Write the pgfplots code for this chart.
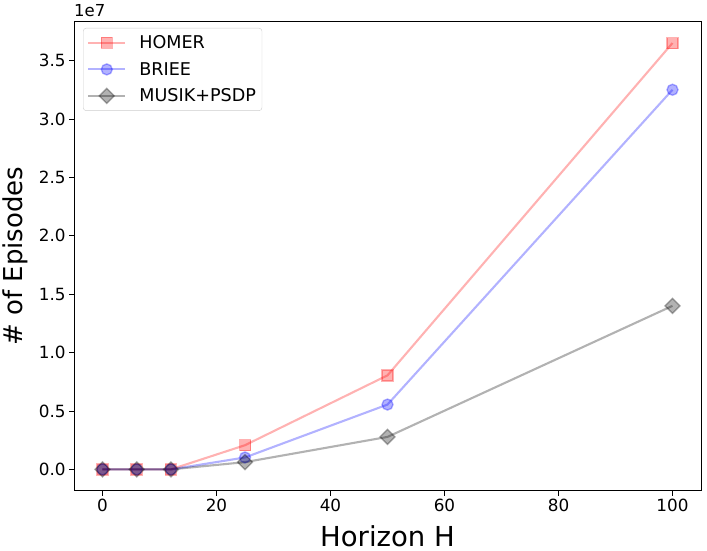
\documentclass[border=0pt]{standalone}
\usepackage{fontspec}
\setmainfont{DejaVu Sans}
\usepackage{pgfplots}
\pgfplotsset{compat=1.18}
\begin{document}
\begin{tikzpicture}
\begin{axis}[
  scale only axis, width=627pt, height=469pt,
  xmin=-5, xmax=105, ymin=-0.1825, ymax=3.8325,
  xtick={0,20,40,60,80,100},
  ytick={0,0.5,1,1.5,2,2.5,3,3.5},
  yticklabel style={/pgf/number format/fixed,/pgf/number format/fixed zerofill,/pgf/number format/precision=1},
  /pgf/number format/assume math mode=true,
  tick align=outside, tick pos=left, major tick length=4.9pt,
  tick style={black, line width=0.8pt},
  axis line style={line width=0.8pt},
  ticklabel style={font=\fontsize{16.8}{19}\selectfont},
  xlabel={Horizon H}, ylabel={\# of Episodes},
  every axis x label/.style={at={(axis description cs:0.5,0)}, anchor=base, yshift=-55.8pt, inner sep=0pt, text depth=0pt, font=\fontsize{27.5}{32}\selectfont},
  every axis y label/.style={at={(axis description cs:-0.0941,0.5)}, rotate=90, anchor=center, font=\fontsize{26}{31}\selectfont},
  legend cell align=left,
  legend style={at={(0.0144,0.9866)}, anchor=north west, draw=black!20, rounded corners=3pt,
    fill=white, fill opacity=0.8, text opacity=1, font=\fontsize{17.6}{21}\selectfont,
    inner xsep=4pt, inner ysep=5.5pt, row sep=8pt,
    /tikz/every odd column/.append style={column sep=11pt}},
  legend image code/.code={\draw[mark repeat=2,mark phase=2,#1] plot coordinates {(0pt,0pt) (18.5pt,0pt) (37pt,0pt)};},
]
\addplot[color=red, opacity=0.3, line width=2.1pt, mark=square*, mark size=5.5pt, mark options={line width=1.4pt}]
  coordinates {(0,0) (6,0) (12,0) (25,0.207) (50,0.805) (100,3.65)};
\addlegendentry{HOMER}
\addplot[color=blue, opacity=0.3, line width=2.1pt, mark=*, mark size=5.5pt, mark options={line width=1.4pt}]
  coordinates {(0,0) (6,0) (12,0) (25,0.102) (50,0.555) (100,3.25)};
\addlegendentry{BRIEE}
\addplot[color=black, opacity=0.3, line width=2.1pt, mark=square*, mark size=5.3pt, mark options={rotate=45, line width=1.4pt}]
  coordinates {(0,0) (6,0) (12,0) (25,0.062) (50,0.278) (100,1.40)};
\addlegendentry{MUSIK+PSDP}
\end{axis}
\node[anchor=base west, inner sep=0pt, font=\fontsize{16.5}{19}\selectfont] at ([yshift=5pt]current axis.north west) {1e7};
\pgfresetboundingbox
\path ([shift={(-74pt,-59.3pt)}]current axis.south west) rectangle ([shift={(6pt,21.7pt)}]current axis.north east);
\end{tikzpicture}
\end{document}
